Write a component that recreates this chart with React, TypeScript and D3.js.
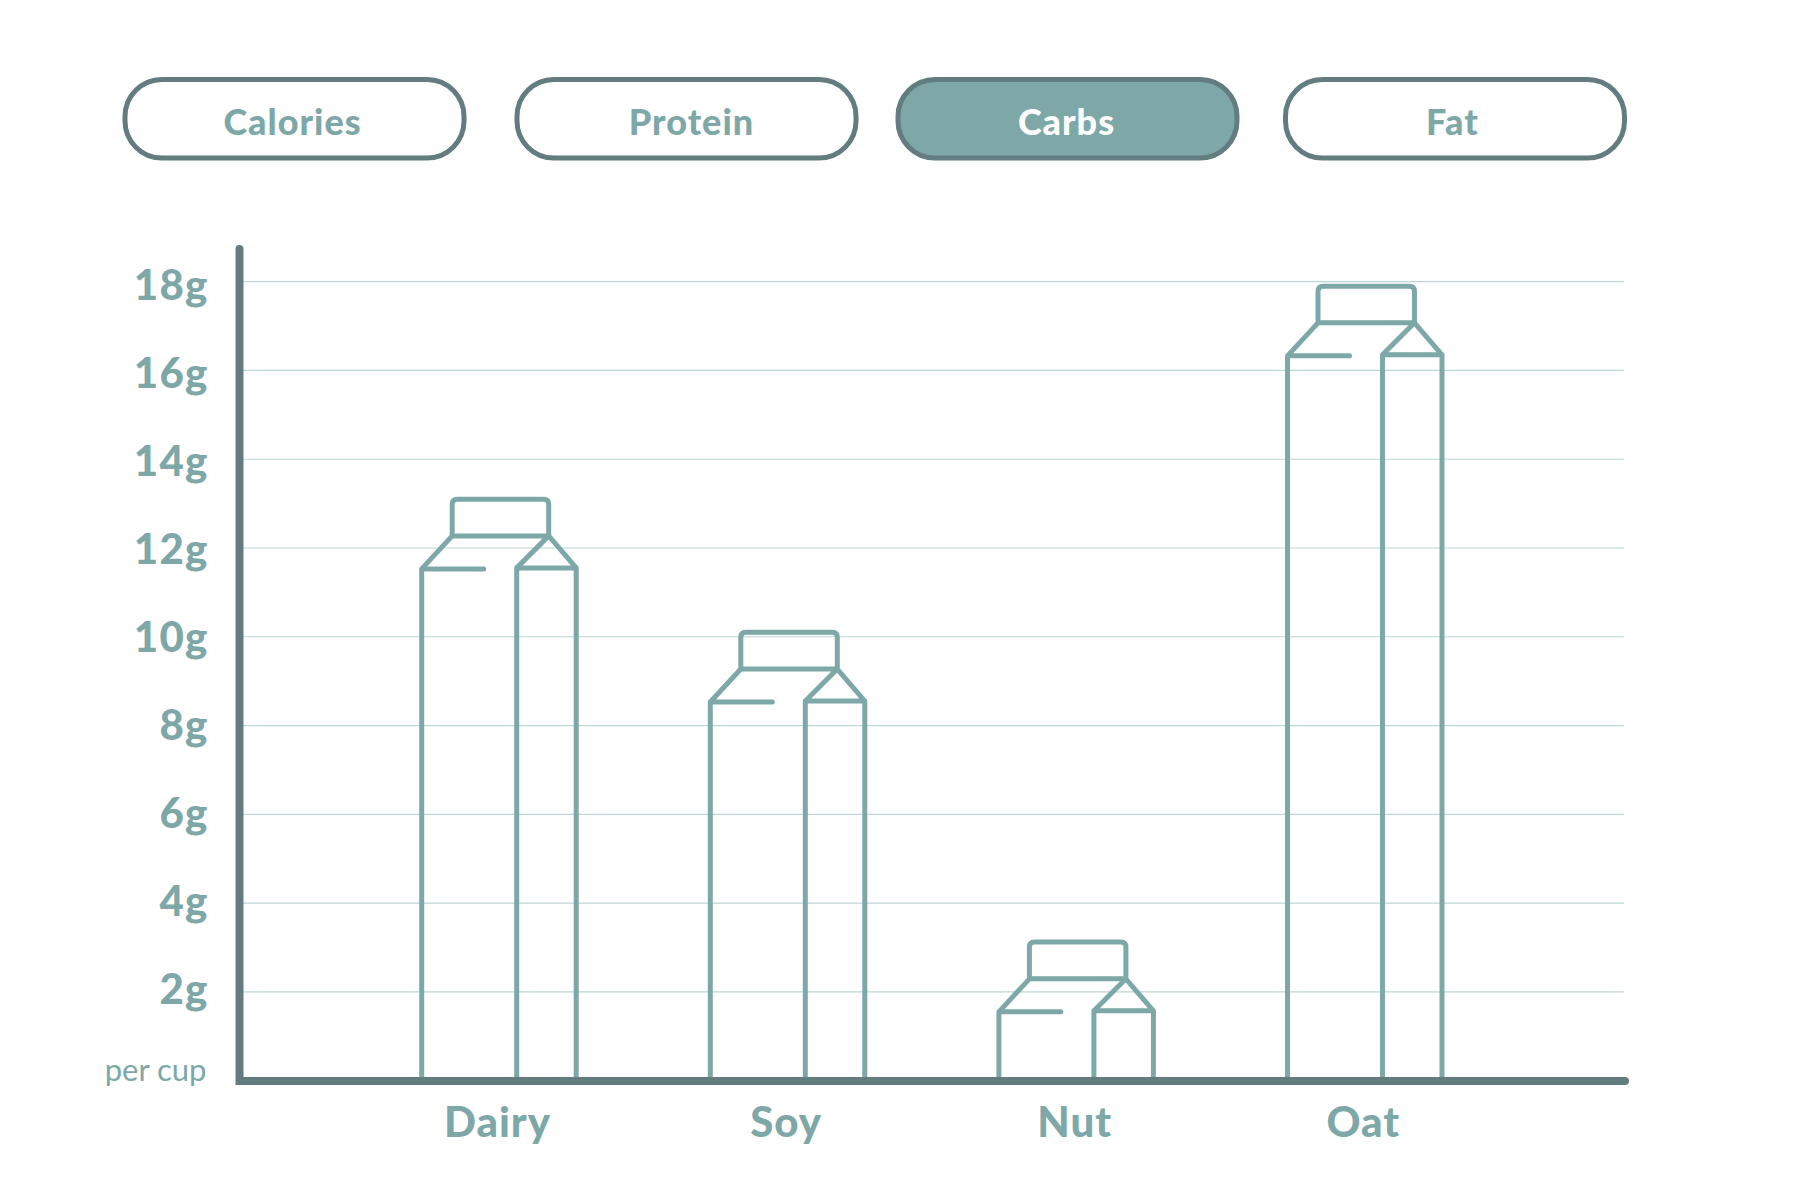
import React from 'react';
import * as d3 from 'd3';

const tabs = ['Calories', 'Protein', 'Carbs', 'Fat'];
const activeTab = 'Carbs';
const milks = ['Dairy', 'Soy', 'Nut', 'Oat'];
const carbsPerCup = [13.1, 10.1, 3.12, 17.9];
const ticks = [2, 4, 6, 8, 10, 12, 14, 16, 18];

const width = 1800;
const height = 1200;

const teal = '#7ea8a8';
const slate = '#627c80';
const gridColor = '#bdd5d5';
const font = "Lato, 'Open Sans', sans-serif";

const y = d3.scaleLinear().domain([0, 18]).range([1080.6, 281.7]);
// the tick labels drift a little against the grid in the original
const yLabel = d3.scaleLinear().domain([2, 18]).range([1003.7, 299.5]);
const x = d3.scalePoint<string>().domain(milks).range([499, 1364.8]);

const tabX = d3.scaleOrdinal<string, number>().domain(tabs).range([294.5, 686.5, 1067.5, 1455]);
const tabTextDx = d3.scaleOrdinal<string, number>().domain(tabs).range([-2, 5, -1, -2.5]);

const carton = (cx: number, top: number) => {
  const left = cx - 77.3;
  const mid = cx + 17.7;
  const right = cx + 77.2;
  const capLeft = left + 30.5;
  const capRight = mid + 32;
  const capBottom = top + 36.7;
  const shoulder = capBottom + 33;
  const r = 5;
  const base = y(0);
  const p = d3.path();
  // cap
  p.moveTo(capLeft, capBottom);
  p.lineTo(capLeft, top + r);
  p.quadraticCurveTo(capLeft, top, capLeft + r, top);
  p.lineTo(capRight - r, top);
  p.quadraticCurveTo(capRight, top, capRight, top + r);
  p.lineTo(capRight, capBottom);
  p.closePath();
  // left panel
  p.moveTo(capLeft, capBottom);
  p.lineTo(left, shoulder);
  p.lineTo(left, base);
  p.moveTo(left, shoulder);
  p.lineTo(left + 62, shoulder);
  // right panel
  p.moveTo(mid, base);
  p.lineTo(mid, shoulder - 1);
  p.lineTo(capRight, capBottom);
  p.lineTo(right, shoulder - 1);
  p.lineTo(right, base);
  p.moveTo(mid, shoulder - 1);
  p.lineTo(right, shoulder - 1);
  return p.toString();
};

export default function App() {
  return (
    <svg
      width={width}
      height={height}
      viewBox={`0 0 ${width} ${height}`}
      style={{ position: 'absolute', left: 0, top: 0, background: '#fff' }}
      fontFamily={font}
    >
      {tabs.map(t => (
        <g key={t}>
          <rect
            x={tabX(t) - 169.5}
            y={79.5}
            width={339}
            height={78.5}
            rx={37}
            fill={t === activeTab ? teal : '#fff'}
            stroke={slate}
            strokeWidth={5}
          />
          <text
            x={tabX(t) + tabTextDx(t)}
            y={134.5}
            textAnchor="middle"
            fontSize={36}
            fontWeight={900}
            letterSpacing={1}
            fill={t === activeTab ? '#fff' : teal}
          >
            {t}
          </text>
        </g>
      ))}

      {ticks.map(t => (
        <g key={t}>
          <line x1={243} x2={1624} y1={y(t)} y2={y(t)} stroke={gridColor} strokeWidth={1.2} />
          <text x={208.5} y={yLabel(t)} textAnchor="end" fontSize={42} fontWeight={900} letterSpacing={1.2} fill={teal}>
            {t}g
          </text>
        </g>
      ))}
      <text x={206.5} y={1081} textAnchor="end" fontSize={31} fontWeight={400} fill={teal}>
        per cup
      </text>

      {milks.map((m, i) => (
        <g key={m}>
          <path
            d={carton(x(m) as number, y(carbsPerCup[i]))}
            fill="none"
            stroke={teal}
            strokeWidth={5}
            strokeLinejoin="round"
            strokeLinecap="round"
          />
          <text x={(x(m) as number) - 1.5} y={1137} textAnchor="middle" fontSize={42} fontWeight={900} letterSpacing={1} fill={teal}>
            {m}
          </text>
        </g>
      ))}

      <path
        d={`M239.5,249V1081H1625`}
        fill="none"
        stroke={slate}
        strokeWidth={8}
        strokeLinecap="round"
        strokeLinejoin="miter"
      />
    </svg>
  );
}
